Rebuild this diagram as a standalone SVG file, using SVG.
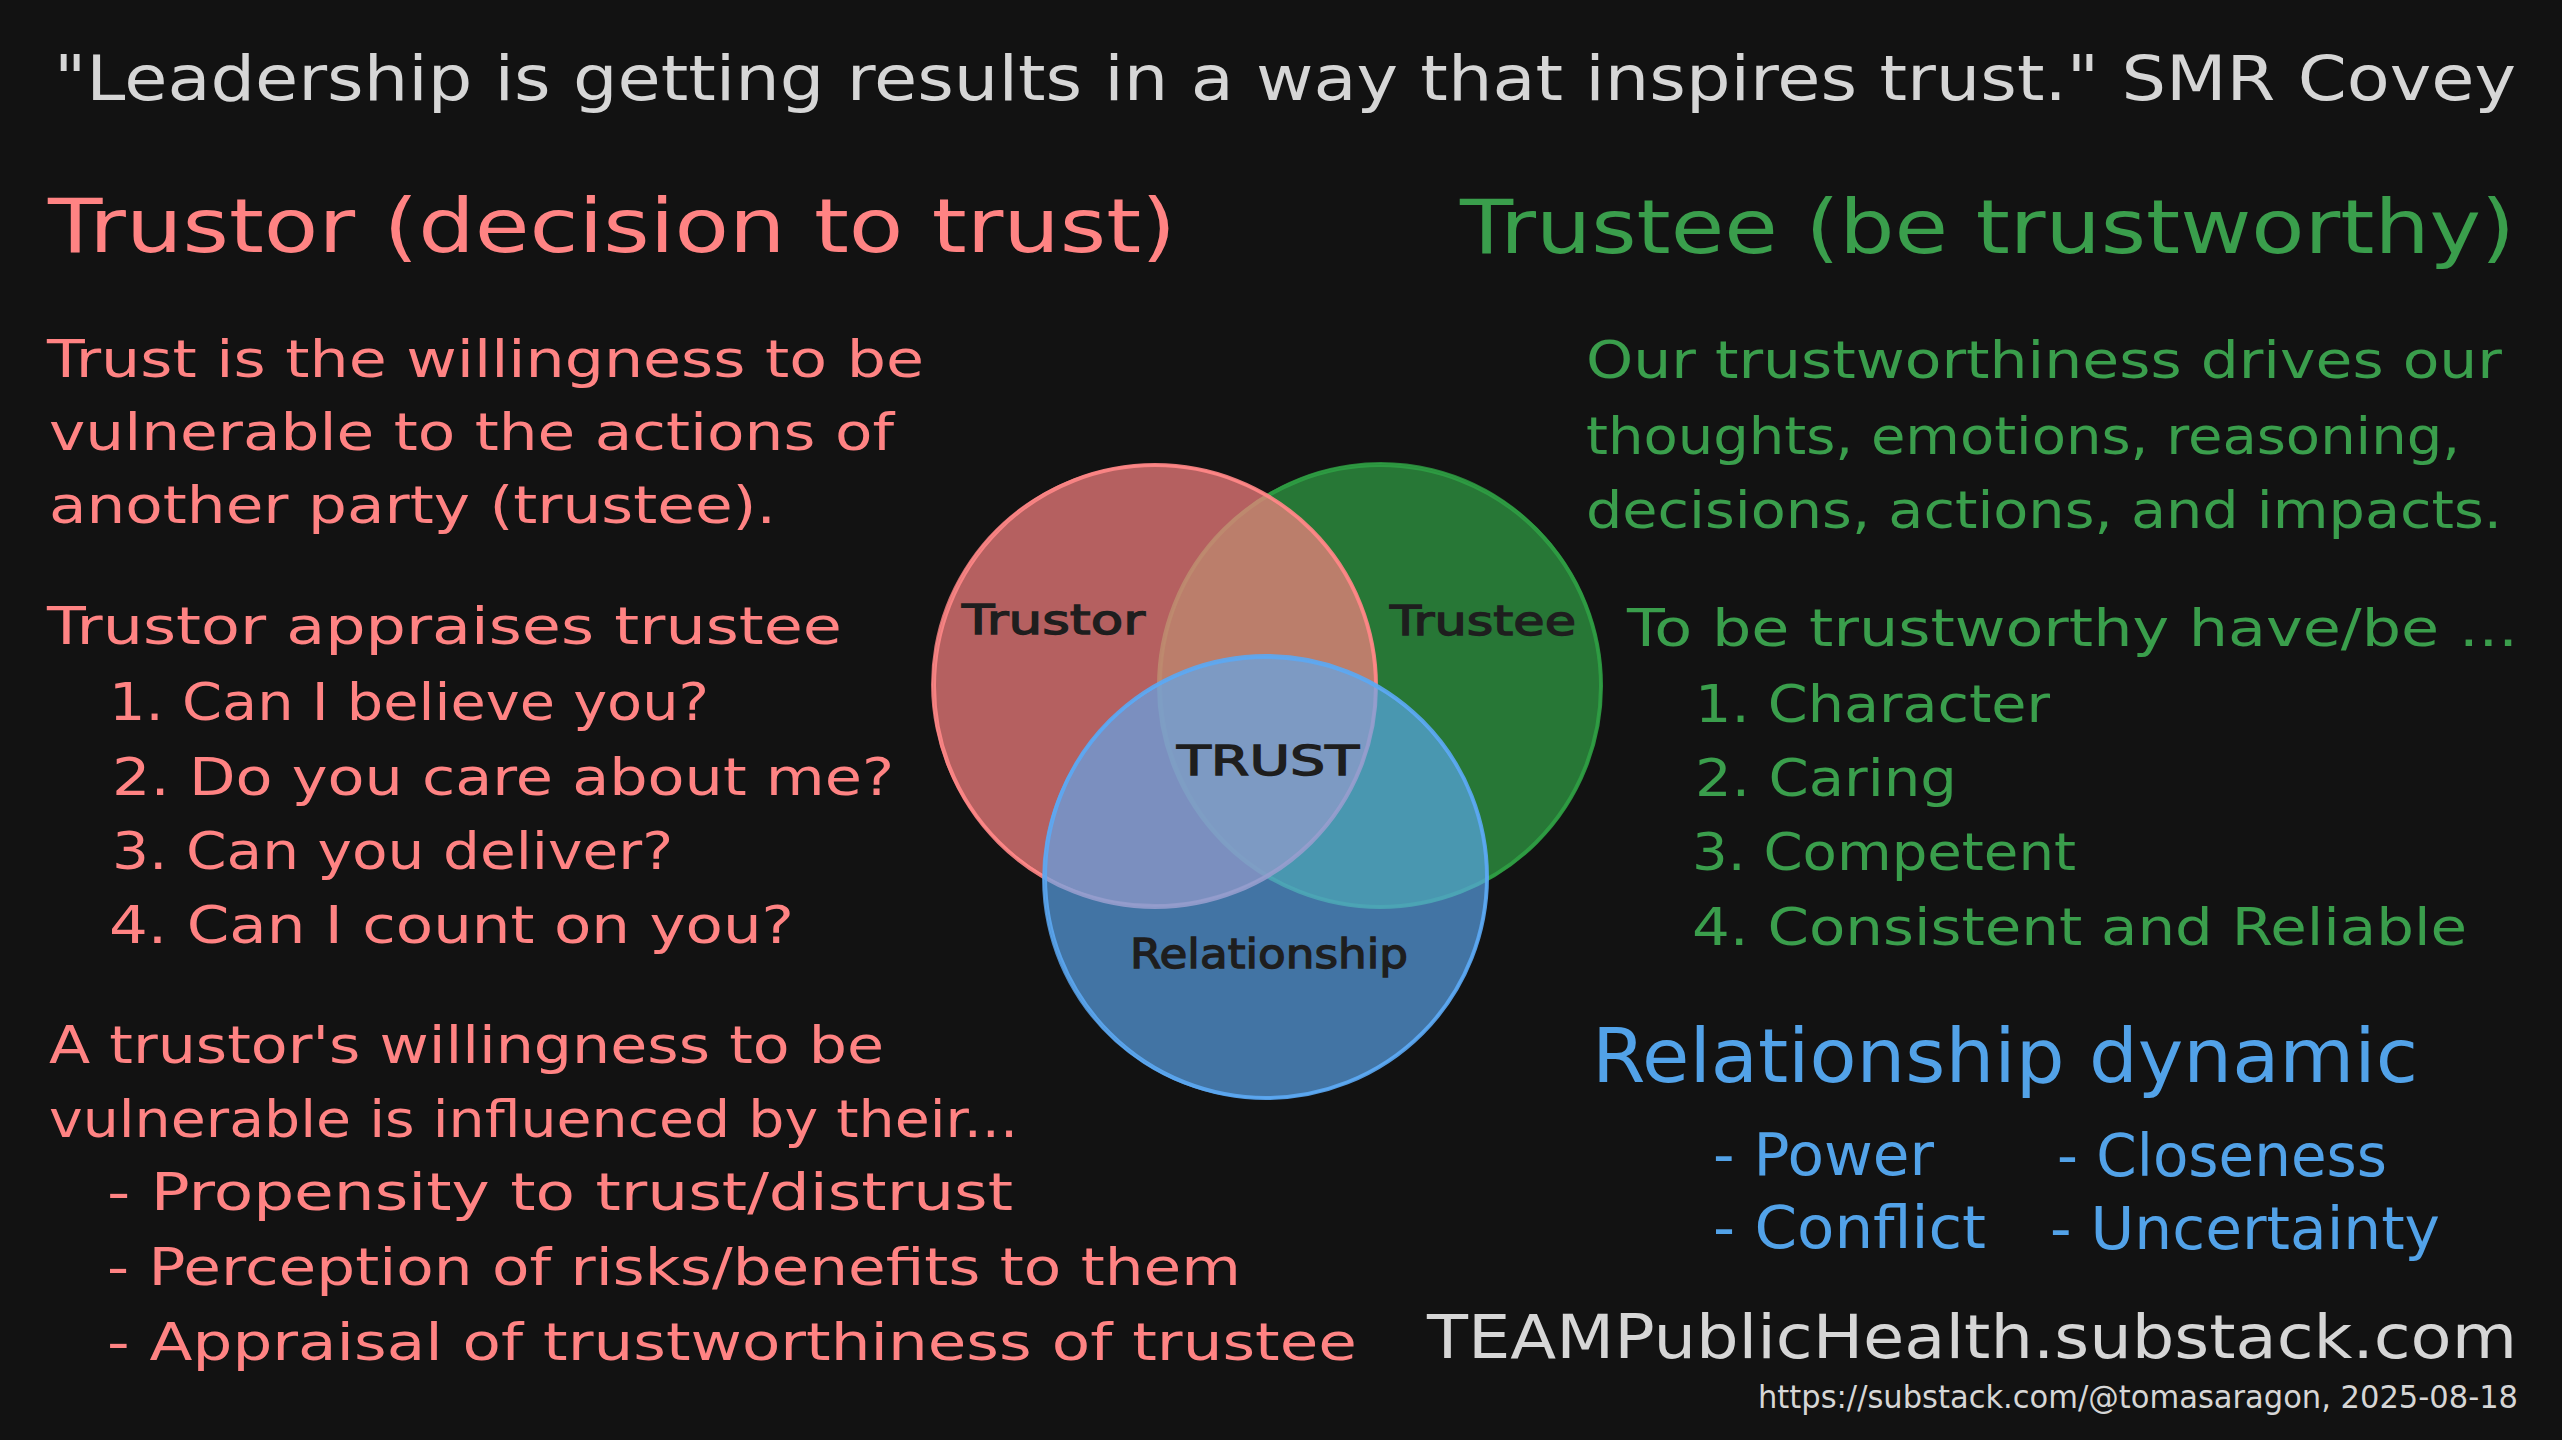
<svg xmlns="http://www.w3.org/2000/svg" width="2562" height="1440" viewBox="0 0 2562 1440">
<style>
  text { font-family: "DejaVu Sans", "Liberation Sans", sans-serif; }
  .title { font-size: 62px; fill: #d6d6d6; }
  .head { font-size: 74px; }
  .body { font-size: 52px; }
  .red { fill: #ff8383; }
  .green { fill: #3a9e4c; }
  .blue { fill: #52a2e8; }
  .white { fill: #d6d6d6; }
  .item { font-size: 58px; }
  .site { font-size: 60px; }
  .url { font-size: 32px; }
  .lbl { font-size: 40px; fill: #1e1e1e; stroke: #1e1e1e; stroke-width: 1.3px; }
  .c-fill { stroke: none; }
  .c-edge { fill: none; stroke-width: 4px; stroke-opacity: 0.9; }
  .c-sketch { fill: none; stroke-width: 2px; stroke-opacity: 0.8; }
</style>
<rect x="0" y="0" width="2562" height="1440" fill="#121212"/>

<g id="quote">
  <text class="title" x="54" y="100" textLength="2462" lengthAdjust="spacingAndGlyphs">"Leadership is getting results in a way that inspires trust." SMR Covey</text>
</g>

<g id="trustor-heading">
  <text class="head red" x="48" y="252" textLength="1128" lengthAdjust="spacingAndGlyphs">Trustor (decision to trust)</text>
</g>
<g id="trustee-heading">
  <text class="head green" x="1460" y="253" textLength="1055" lengthAdjust="spacingAndGlyphs">Trustee (be trustworthy)</text>
</g>

<g id="trustor-text" class="body red">
  <text x="47" y="377" textLength="877" lengthAdjust="spacingAndGlyphs">Trust is the willingness to be</text>
  <text x="49" y="450" textLength="845" lengthAdjust="spacingAndGlyphs">vulnerable to the actions of</text>
  <text x="49" y="523" textLength="727" lengthAdjust="spacingAndGlyphs">another party (trustee).</text>
  <text x="47" y="644" textLength="795" lengthAdjust="spacingAndGlyphs">Trustor appraises trustee</text>
  <text x="109" y="720" textLength="600" lengthAdjust="spacingAndGlyphs">1. Can I believe you?</text>
  <text x="112" y="795" textLength="782" lengthAdjust="spacingAndGlyphs">2. Do you care about me?</text>
  <text x="112" y="869" textLength="561" lengthAdjust="spacingAndGlyphs">3. Can you deliver?</text>
  <text x="109" y="943" textLength="685" lengthAdjust="spacingAndGlyphs">4. Can I count on you?</text>
</g>

<g id="trustor-influences" class="body red">
  <text x="49" y="1063" textLength="835" lengthAdjust="spacingAndGlyphs">A trustor's willingness to be</text>
  <text x="49" y="1137" textLength="969" lengthAdjust="spacingAndGlyphs">vulnerable is influenced by their...</text>
  <text x="107" y="1210" textLength="906" lengthAdjust="spacingAndGlyphs">- Propensity to trust/distrust</text>
  <text x="107" y="1285" textLength="1134" lengthAdjust="spacingAndGlyphs">- Perception of risks/benefits to them</text>
  <text x="107" y="1360" textLength="1250" lengthAdjust="spacingAndGlyphs">- Appraisal of trustworthiness of trustee</text>
</g>

<g id="trustee-text" class="body green">
  <text x="1586" y="378" textLength="916" lengthAdjust="spacingAndGlyphs">Our trustworthiness drives our</text>
  <text x="1586" y="454" textLength="874" lengthAdjust="spacingAndGlyphs">thoughts, emotions, reasoning,</text>
  <text x="1586" y="528" textLength="916" lengthAdjust="spacingAndGlyphs">decisions, actions, and impacts.</text>
  <text x="1627" y="646" textLength="891" lengthAdjust="spacingAndGlyphs">To be trustworthy have/be ...</text>
  <text x="1695" y="722" textLength="355" lengthAdjust="spacingAndGlyphs">1. Character</text>
  <text x="1695" y="796" textLength="262" lengthAdjust="spacingAndGlyphs">2. Caring</text>
  <text x="1692" y="870" textLength="384" lengthAdjust="spacingAndGlyphs">3. Competent</text>
  <text x="1692" y="945" textLength="775" lengthAdjust="spacingAndGlyphs">4. Consistent and Reliable</text>
</g>

<g id="relationship-dynamic" class="blue">
  <text class="head" x="1592" y="1082" textLength="826" lengthAdjust="spacingAndGlyphs">Relationship dynamic</text>
  <text class="item" x="1713" y="1175" textLength="221" lengthAdjust="spacingAndGlyphs">- Power</text>
  <text class="item" x="2057" y="1176" textLength="330" lengthAdjust="spacingAndGlyphs">- Closeness</text>
  <text class="item" x="1713" y="1248" textLength="273" lengthAdjust="spacingAndGlyphs">- Conflict</text>
  <text class="item" x="2050" y="1249" textLength="390" lengthAdjust="spacingAndGlyphs">- Uncertainty</text>
</g>

<g id="footer" class="white">
  <text class="site" x="1427" y="1358" textLength="1090" lengthAdjust="spacingAndGlyphs">TEAMPublicHealth.substack.com</text>
  <text class="url" x="1758" y="1408" textLength="760" lengthAdjust="spacingAndGlyphs">https://substack.com/@tomasaragon, 2025-08-18</text>
</g>

<g id="venn-trustee">
  <circle class="c-fill" cx="1380" cy="686" r="221" fill="#2f9e44" fill-opacity="0.72"/>
  <circle class="c-edge" cx="1380" cy="686" r="221" stroke="#2f9e44"/>
  <ellipse class="c-sketch" cx="1381" cy="685" rx="220" ry="222" stroke="#2f9e44" transform="rotate(-8 1381 685)"/>
</g>
<g id="venn-trustor">
  <circle class="c-fill" cx="1155" cy="686" r="221" fill="#fb8282" fill-opacity="0.7"/>
  <circle class="c-edge" cx="1155" cy="686" r="221" stroke="#ff8787"/>
  <ellipse class="c-sketch" cx="1154" cy="685" rx="222" ry="220" stroke="#ff8787" transform="rotate(10 1154 685)"/>
</g>
<g id="venn-relationship">
  <circle class="c-fill" cx="1266" cy="877" r="221" fill="#5ca9f3" fill-opacity="0.65"/>
  <circle class="c-edge" cx="1266" cy="877" r="221" stroke="#5ca9f3"/>
  <ellipse class="c-sketch" cx="1265" cy="878" rx="222" ry="220" stroke="#5ca9f3" transform="rotate(-12 1265 878)"/>
</g>

<g id="venn-labels">
  <text class="lbl" x="962" y="634" textLength="183" lengthAdjust="spacingAndGlyphs">Trustor</text>
  <text class="lbl" x="1390" y="635" textLength="186" lengthAdjust="spacingAndGlyphs">Trustee</text>
  <text class="lbl" x="1177" y="775" textLength="182" lengthAdjust="spacingAndGlyphs">TRUST</text>
  <text class="lbl" x="1130" y="968" textLength="278" lengthAdjust="spacingAndGlyphs">Relationship</text>
</g>
</svg>
